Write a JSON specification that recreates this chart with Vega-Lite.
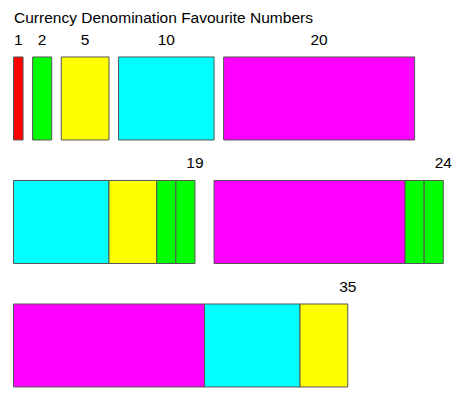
{
  "$schema": "https://vega.github.io/schema/vega-lite/v6.json",
  "width": 466,
  "height": 404,
  "autosize": "none",
  "padding": 0,
  "background": "white",
  "title": {
    "text": "Currency Denomination Favourite Numbers",
    "anchor": "start",
    "font": "Liberation Sans",
    "fontSize": 15.5,
    "fontWeight": "normal",
    "color": "black",
    "baseline": "middle",
    "orient": "top",
    "offset": -17,
    "dx": 14,
    "dy": 16
  },
  "config": {"view": {"stroke": null}},
  "datasets": {
    "segments": [
      {"row": 1, "denomination": 1, "start": 0, "end": 1},
      {"row": 1, "denomination": 2, "start": 2, "end": 4},
      {"row": 1, "denomination": 5, "start": 5, "end": 10},
      {"row": 1, "denomination": 10, "start": 11, "end": 21},
      {"row": 1, "denomination": 20, "start": 22, "end": 42},
      {"row": 2, "denomination": 10, "start": 0, "end": 10},
      {"row": 2, "denomination": 5, "start": 10, "end": 15},
      {"row": 2, "denomination": 2, "start": 15, "end": 17},
      {"row": 2, "denomination": 2, "start": 17, "end": 19},
      {"row": 2, "denomination": 20, "start": 21, "end": 41},
      {"row": 2, "denomination": 2, "start": 41, "end": 43},
      {"row": 2, "denomination": 2, "start": 43, "end": 45},
      {"row": 3, "denomination": 20, "start": 0, "end": 20},
      {"row": 3, "denomination": 10, "start": 20, "end": 30},
      {"row": 3, "denomination": 5, "start": 30, "end": 35}
    ],
    "labels": [
      {"row": 1, "label": "1", "at": 0.5},
      {"row": 1, "label": "2", "at": 3},
      {"row": 1, "label": "5", "at": 7.5},
      {"row": 1, "label": "10", "at": 16},
      {"row": 1, "label": "20", "at": 32},
      {"row": 2, "label": "19", "at": 19},
      {"row": 2, "label": "24", "at": 45},
      {"row": 3, "label": "35", "at": 35}
    ]
  },
  "layer": [
    {
      "data": {"name": "segments"},
      "mark": {"type": "bar", "stroke": "#555555", "strokeWidth": 1},
      "encoding": {
        "x": {
          "field": "start",
          "type": "quantitative",
          "axis": null,
          "scale": {"domain": [-1.414, 47.38], "nice": false, "zero": false}
        },
        "x2": {"field": "end"},
        "y": {
          "field": "row",
          "type": "ordinal",
          "axis": null,
          "scale": {"paddingInner": 0.328, "paddingOuter": 0.2996, "align": 0.77}
        },
        "color": {
          "field": "denomination",
          "type": "nominal",
          "legend": null,
          "scale": {
            "domain": [1, 2, 5, 10, 20],
            "range": ["#ff0000", "#00ff00", "#ffff00", "#00ffff", "#ff00ff"]
          }
        }
      }
    },
    {
      "data": {"name": "labels"},
      "mark": {
        "type": "text",
        "font": "Liberation Sans",
        "fontSize": 15.5,
        "color": "black",
        "align": "center",
        "baseline": "middle",
        "dy": -17
      },
      "encoding": {
        "x": {"field": "at", "type": "quantitative"},
        "y": {"field": "row", "type": "ordinal", "bandPosition": 0},
        "text": {"field": "label"}
      }
    }
  ]
}
